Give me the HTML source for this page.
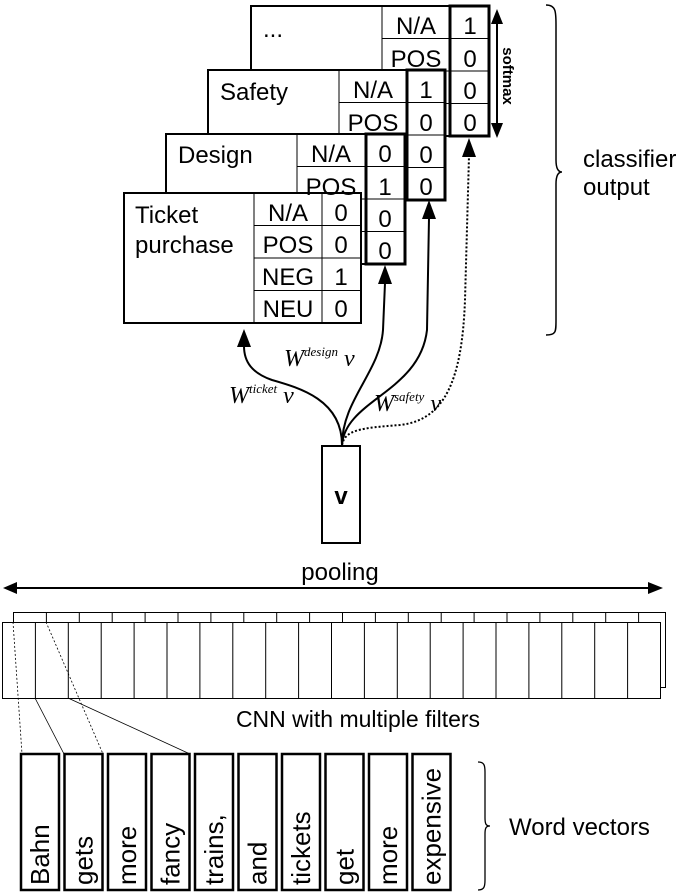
<!DOCTYPE html>
<html><head><meta charset="utf-8"><style>
html,body{margin:0;padding:0;background:#fff}
svg{display:block}
text{font-family:"Liberation Sans",sans-serif;fill:#000}
.s{font-family:"Liberation Serif",serif;font-style:italic}
</style></head><body>
<svg width="688" height="895" viewBox="0 0 688 895" xmlns="http://www.w3.org/2000/svg">
<g stroke="#000" fill="#fff">
<rect x="251" y="6" width="199" height="130" stroke-width="2"/>
<line x1="382" y1="6" x2="382" y2="136" stroke-width="1"/>
<line x1="382" y1="38.5" x2="450" y2="38.5"/><line x1="382" y1="71" x2="450" y2="71"/><line x1="382" y1="103.5" x2="450" y2="103.5"/>
<rect x="450" y="6" width="39" height="130" stroke-width="3"/>
<line x1="450" y1="38.5" x2="489" y2="38.5" stroke-width="1"/><line x1="450" y1="71" x2="489" y2="71" stroke-width="1"/><line x1="450" y1="103.5" x2="489" y2="103.5" stroke-width="1"/>
<rect x="208" y="70" width="199" height="130" stroke-width="2"/>
<line x1="339" y1="70" x2="339" y2="200" stroke-width="1"/>
<line x1="339" y1="102.5" x2="407" y2="102.5"/><line x1="339" y1="135" x2="407" y2="135"/><line x1="339" y1="167.5" x2="407" y2="167.5"/>
<rect x="407" y="70" width="38" height="130" stroke-width="3"/>
<line x1="407" y1="102.5" x2="445" y2="102.5" stroke-width="1"/><line x1="407" y1="135" x2="445" y2="135" stroke-width="1"/><line x1="407" y1="167.5" x2="445" y2="167.5" stroke-width="1"/>
<rect x="166" y="134" width="200" height="130" stroke-width="2"/>
<line x1="297" y1="134" x2="297" y2="264" stroke-width="1"/>
<line x1="297" y1="166.5" x2="366" y2="166.5"/><line x1="297" y1="199" x2="366" y2="199"/><line x1="297" y1="231.5" x2="366" y2="231.5"/>
<rect x="366" y="134" width="39" height="130" stroke-width="3"/>
<line x1="366" y1="166.5" x2="405" y2="166.5" stroke-width="1"/><line x1="366" y1="199" x2="405" y2="199" stroke-width="1"/><line x1="366" y1="231.5" x2="405" y2="231.5" stroke-width="1"/>
<rect x="124" y="193" width="237" height="130" stroke-width="2"/>
<line x1="254" y1="193" x2="254" y2="323" stroke-width="1"/><line x1="322" y1="193" x2="322" y2="323" stroke-width="1"/>
<line x1="254" y1="225.5" x2="361" y2="225.5" stroke-width="1"/><line x1="254" y1="258" x2="361" y2="258" stroke-width="1"/><line x1="254" y1="290.5" x2="361" y2="290.5" stroke-width="1"/>
</g>
<g font-size="24" text-anchor="middle">
<text x="416" y="34">N/A</text><text x="416" y="67">POS</text>
<text x="470" y="34">1</text><text x="470" y="67">0</text><text x="470" y="99">0</text><text x="470" y="131">0</text>
<text x="373" y="98">N/A</text><text x="373" y="131">POS</text>
<text x="426" y="98">1</text><text x="426" y="131">0</text><text x="426" y="163">0</text><text x="426" y="195">0</text>
<text x="331" y="162">N/A</text><text x="331" y="195">POS</text>
<text x="385" y="162">0</text><text x="385" y="195">1</text><text x="385" y="227">0</text><text x="385" y="259">0</text>
<text x="288" y="221">N/A</text><text x="288" y="253">POS</text><text x="288" y="285">NEG</text><text x="288" y="317">NEU</text>
<text x="341" y="221">0</text><text x="341" y="253">0</text><text x="341" y="285">1</text><text x="341" y="317">0</text>
</g>
<g font-size="24">
<text x="263" y="37">...</text>
<text x="220" y="100">Safety</text>
<text x="178" y="163">Design</text>
<text x="135" y="223">Ticket</text>
<text x="135" y="253">purchase</text>
</g>
<line x1="497" y1="22" x2="497" y2="125" stroke="#000" stroke-width="2"/>
<path d="M491,24 L503,24 L497,9z M491,123 L503,123 L497,138z" fill="#000"/>
<text x="0" y="0" font-size="15" font-weight="bold" transform="translate(503,76) rotate(90)" text-anchor="middle">softmax</text>
<path d="M546,5 C556,5 556,12 556,25 L556,160 C556,168 558,172 562,172 C558,172 556,176 556,184 L556,320 C556,332 556,335 546,335" fill="none" stroke="#000" stroke-width="1.5"/>
<text x="583" y="167" font-size="24">classifier</text>
<text x="583" y="195" font-size="24">output</text>
<g fill="none" stroke="#000" stroke-width="2">
<path d="M342,445 C342,400 300,388 272,380 C252,373 244,362 244,346"/>
<path d="M342,445 C342,400 380,372 383,330 L385,283"/>
<path d="M342,445 C345,400 420,392 427,330 L429,218"/>
<path d="M342,445 C345,430 360,428 400,425 C445,420 462,380 465,300 L469,156" stroke-dasharray="2,2"/>
</g>
<g fill="#000">
<path d="M237,347 L251,347 L244,329z"/>
<path d="M378,284 L392,284 L385,265z"/>
<path d="M422,219 L436,219 L429,200z"/>
<path d="M462,157 L476,157 L469,138z"/>
</g>
<text class="s" x="229" y="403" font-size="24">W<tspan font-size="13" dy="-10">ticket</tspan><tspan dy="10"> v</tspan></text>
<text class="s" x="284" y="366" font-size="24">W<tspan font-size="13" dy="-10">design</tspan><tspan dy="10"> v</tspan></text>
<text class="s" x="374" y="411" font-size="24">W<tspan font-size="13" dy="-10">safety</tspan><tspan dy="10"> v</tspan></text>
<rect x="322" y="446" width="38" height="97" fill="#fff" stroke="#000" stroke-width="2"/>
<text x="341" y="504" font-size="24" font-weight="bold" text-anchor="middle">v</text>
<text x="340" y="580" font-size="24" text-anchor="middle">pooling</text>
<line x1="15" y1="588" x2="650" y2="588" stroke="#000" stroke-width="2"/>
<path d="M17,582 L17,594 L3,588z M648,582 L648,594 L663,588z" fill="#000"/>
<g stroke="#000" stroke-width="1" fill="#fff">
<rect x="13.5" y="612.5" width="652" height="75"/>
<rect x="2.5" y="622.5" width="658" height="76"/>
</g>
<g stroke="#000" stroke-width="1" id="cells"></g>
<text x="358" y="727" font-size="23" text-anchor="middle">CNN with multiple filters</text>
<g stroke="#000" stroke-width="0.8" fill="none">
<line x1="13" y1="622" x2="22" y2="754" stroke-dasharray="2,2"/>
<line x1="35" y1="698" x2="64" y2="754"/>
<line x1="46" y1="622" x2="103" y2="754" stroke-dasharray="2,2"/>
<line x1="68" y1="698" x2="190" y2="754"/>
</g>
<g id="words"></g>
<path d="M478,762 C484,762 485,765 485,772 L485,818 C485,824 486,826 490,826 C486,826 485,828 485,834 L485,880 C485,887 484,890 478,890" fill="none" stroke="#000" stroke-width="1.3"/>
<text x="509" y="835" font-size="24">Word vectors</text>
</svg>
<script>
var ns="http://www.w3.org/2000/svg",c=document.getElementById("cells");
for(var i=1;i<20;i++){var x=2.5+i*32.9;var l=document.createElementNS(ns,"line");l.setAttribute("x1",x);l.setAttribute("x2",x);l.setAttribute("y1",622);l.setAttribute("y2",698);c.appendChild(l);
var x2=13.5+i*32.9;if(x2<665){var m=document.createElementNS(ns,"line");m.setAttribute("x1",x2);m.setAttribute("x2",x2);m.setAttribute("y1",612);m.setAttribute("y2",622);c.appendChild(m);}}
var w=["Bahn","gets","more","fancy","trains,","and","tickets","get","more","expensive"],g=document.getElementById("words");
for(var i=0;i<10;i++){var x=21+i*43.5;var r=document.createElementNS(ns,"rect");r.setAttribute("x",x);r.setAttribute("y",754);r.setAttribute("width",38);r.setAttribute("height",136);r.setAttribute("fill","#fff");r.setAttribute("stroke","#000");r.setAttribute("stroke-width","2.5");g.appendChild(r);
var t=document.createElementNS(ns,"text");t.setAttribute("font-size","26");t.setAttribute("transform","translate("+(x+28)+",885) rotate(-90)");t.textContent=w[i];g.appendChild(t);}
</script>
</body></html>
